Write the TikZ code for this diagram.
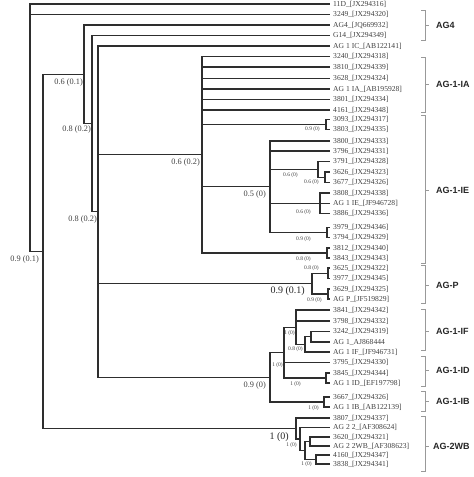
\documentclass[tikz,border=0pt]{standalone}
\usepackage{fontspec}
\setmainfont{Liberation Serif}
\newfontfamily\groupfont{Liberation Sans}
\usetikzlibrary{positioning}
\definecolor{LineGray}{HTML}{2E2E2E}
\definecolor{TextGray}{HTML}{404040}

\begin{document}
\begin{tikzpicture}[
  x=1pt, y=-1pt,
  branch/.style={draw=LineGray, line width=1.2pt},
  taxon/.style={font=\fontsize{7.6}{8}\selectfont, text=TextGray, anchor=west, inner sep=0pt},
  supp/.style={font=\fontsize{5.5}{6}\selectfont, text=TextGray, anchor=north east, inner sep=0pt},
  suppmid/.style={supp, font=\fontsize{8.3}{9}\selectfont},
  suppbig/.style={supp, font=\fontsize{10}{11}\selectfont, text=black!85},
  clade/.style={draw=gray!80, line width=0.6pt},
  cladelab/.style={font={\groupfont\bfseries\fontsize{9}{10}\selectfont}, text=black!85, anchor=west, inner sep=0pt},
]
  \useasboundingbox (0,0) rectangle (474,477);

  \coordinate (root) at (30,127.7);
  \coordinate (n43)  at (43,251.45);
  \coordinate (n84)  at (84,74.4);
  \coordinate (n92)  at (92,123.75);
  \coordinate (n98)  at (98,211.65);
  \coordinate (n202) at (202,154.75);
  \coordinate (p12)  at (326,124.5);
  \coordinate (n270) at (270,186.75);
  \coordinate (g1)   at (318,169.4);
  \coordinate (p17)  at (325,177.25);
  \coordinate (g2)   at (320,203.5);
  \coordinate (p22)  at (327,232.5);
  \coordinate (p24)  at (327,253);
  \coordinate (nAGP) at (312,283.6);
  \coordinate (p26)  at (328,273.25);
  \coordinate (p28)  at (328,294);
  \coordinate (nP)   at (270,377.3);
  \coordinate (nQ)   at (284,352.6);
  \coordinate (nR)   at (296,327.2);
  \coordinate (nS)   at (305,344.4);
  \coordinate (p32)  at (311,336.75);
  \coordinate (p36)  at (326,378);
  \coordinate (p38)  at (324,402);
  \coordinate (nT)   at (296,428.5);
  \coordinate (nU)   at (300,439);
  \coordinate (nV)   at (305,450.5);
  \coordinate (pW)   at (310,441.5);
  \coordinate (pX)   at (316,459.5);

  \foreach \i/\y/\txt in {
    1/4/{11D\_[JX294316]}, 2/14.5/{3249\_[JX294320]}, 3/25/{AG4\_[JQ669932]},
    4/35.5/{G14\_[JX294349]}, 5/46/{AG 1 IC\_[AB122141]}, 6/56.5/{3240\_[JX294318]},
    7/67/{3810\_[JX294339]}, 8/78.5/{3628\_[JX294324]}, 9/89/{AG 1 IA\_[AB195928]},
    10/99.5/{3801\_[JX294334]}, 11/110/{4161\_[JX294348]}, 12/119.5/{3093\_[JX294317]},
    13/129.5/{3803\_[JX294335]}, 14/141/{3800\_[JX294333]}, 15/151/{3796\_[JX294331]},
    16/161.5/{3791\_[JX294328]}, 17/172/{3626\_[JX294323]}, 18/182.5/{3677\_[JX294326]},
    19/193/{3808\_[JX294338]}, 20/203.5/{AG 1 IE\_[JF946728]}, 21/213.5/{3886\_[JX294336]},
    22/227.5/{3979\_[JX294346]}, 23/237.5/{3794\_[JX294329]}, 24/248/{3812\_[JX294340]},
    25/258/{3843\_[JX294343]}, 26/268/{3625\_[JX294322]}, 27/278.5/{3977\_[JX294345]},
    28/289/{3629\_[JX294325]}, 29/299/{AG P\_[JF519829]}, 30/310/{3841\_[JX294342]},
    31/321/{3798\_[JX294332]}, 32/331.5/{3242\_[JX294319]}, 33/342/{AG 1\_AJ868444},
    34/352/{AG 1 IF\_[JF946731]}, 35/362.5/{3795\_[JX294330]}, 36/373/{3845\_[JX294344]},
    37/383/{AG 1 ID\_[EF197798]}, 38/397/{3667\_[JX294326]}, 39/407/{AG 1 IB\_[AB122139]},
    40/418/{3807\_[JX294337]}, 41/427.5/{AG 2 2\_[AF308624]}, 42/437/{3620\_[JX294321]},
    43/446/{AG 2 2WB\_[AF308623]}, 44/455/{4160\_[JX294347]}, 45/464/{3838\_[JX294341]}}{
    \coordinate (t\i) at (330,\y);
    \node[taxon, right=3pt of t\i] (l\i) {\txt};
  }

  \foreach \a/\b in {root/t1, root/t2, root/n43, n43/n84, n43/nT, n84/t3, n84/n92,
      n92/t4, n92/n98, n98/t5, n98/n202, n98/nAGP, n98/nP,
      n202/t6, n202/t7, n202/t8, n202/t9, n202/t10, n202/t11, n202/p12, n202/n270, n202/p24,
      p12/t12, p12/t13, n270/t14, n270/t15, n270/g1, n270/g2, n270/p22,
      g1/t16, g1/p17, p17/t17, p17/t18, g2/t19, g2/t20, g2/t21,
      p22/t22, p22/t23, p24/t24, p24/t25, nAGP/p26, nAGP/p28,
      p26/t26, p26/t27, p28/t28, p28/t29, nP/nQ, nP/p38,
      nQ/nR, nQ/t35, nQ/p36, nR/t30, nR/t31, nR/nS, nS/p32, nS/t34,
      p32/t32, p32/t33, p36/t36, p36/t37, p38/t38, p38/t39,
      nT/t40, nT/nU, nU/t41, nU/nV, nV/pW, nV/pX, pW/t42, pW/t43, pX/t44, pX/t45}
    \draw[branch] (\a) |- (\b);

  \node[suppmid] (s43)  at (39,256)   {0.9 (0.1)};
  \node[suppmid] (s84)  at (83,79)    {0.6 (0.1)};
  \node[suppmid] (s92)  at (91,126)   {0.8 (0.2)};
  \node[suppmid] (s98)  at (97,216)   {0.8 (0.2)};
  \node[suppmid] (s202) at (200,159)  {0.6 (0.2)};
  \node[suppmid] (s270) at (266,191)  {0.5 (0)};
  \node[supp]    (s12)  at (320,126)  {0.9 (0)};
  \node[supp]    (sg1)  at (298,172)  {0.6 (0)};
  \node[supp]    (s17)  at (319,179.5) {0.6 (0)};
  \node[supp]    (sg2)  at (311,209)  {0.6 (0)};
  \node[supp]    (s22)  at (311,236)  {0.9 (0)};
  \node[supp]    (s24)  at (311,256)  {0.8 (0)};
  \node[supp]    (s26)  at (319,265.5) {0.8 (0)};
  \node[supp]    (s28)  at (322,297)  {0.9 (0)};
  \node[suppbig] (sAGP) at (305,286.5) {0.9 (0.1)};
  \node[supp]    (sR)   at (295,330)  {1 (0)};
  \node[supp]    (sS)   at (303,346.5) {0.8 (0)};
  \node[supp]    (sQ)   at (283,362)  {1 (0)};
  \node[supp]    (s36)  at (301,381)  {1 (0)};
  \node[suppmid] (sP)   at (266,382)  {0.9 (0)};
  \node[supp]    (s38)  at (319,405)  {1 (0)};
  \node[suppbig] (sT)   at (289,432)  {1 (0)};
  \node[supp]    (sU)   at (297,442)  {1 (0)};
  \node[supp]    (sX)   at (312,461)  {1 (0)};

  \foreach \k/\ya/\yb/\ym/\lx/\grp in {1/10/40/25/436/AG4, 2/57/112/84/436/AG-1-IA,
      3/115/263/190/436/AG-1-IE, 4/265/303/285/436/AG-P, 5/309/350/331/436/AG-1-IF,
      6/356/386/370/436/AG-1-ID, 7/391/411/401/436/AG-1-IB, 8/416/471/446/433/AG-2WB}{
    \draw[clade] (421,\ya) -- (425,\ya) -- (425,\yb) -- (421,\yb) (425,\ym) -- (429,\ym);
    \node[cladelab] (c\k) at (\lx,\ym) {\grp};
  }
\end{tikzpicture}
\end{document}
